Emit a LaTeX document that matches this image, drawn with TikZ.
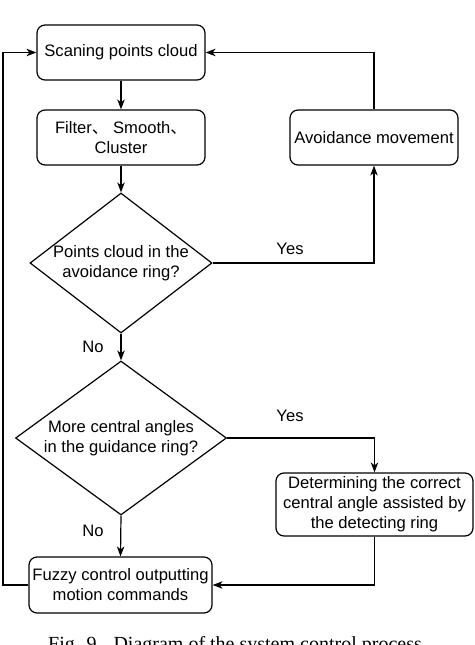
\documentclass[tikz,border=0pt]{standalone}
\usepackage{fontspec}
\setmainfont{Liberation Sans}
\newfontfamily\capfont{Liberation Serif}
\newfontfamily\cjk{Noto Sans CJK SC}
\usetikzlibrary{shapes.geometric,arrows.meta}
\begin{document}
\begin{tikzpicture}[x=1pt,y=-1pt,
  txt/.style={font=\fontsize{16.6}{20}\selectfont, align=center, inner sep=0pt},
  box/.style={txt, draw, line width=1.2pt, rounded corners=8pt},
  dia/.style={draw, diamond, line width=1.2pt, inner sep=0pt},
  arr/.style={line width=1.2pt, -{Stealth[length=10pt,width=7.5pt,inset=3pt]}},
  lab/.style={txt}]
\useasboundingbox (0,0) rectangle (474,645);
\node[box, minimum width=168pt, minimum height=55pt] (b1) at (121,52.5) {Scaning points cloud};
\node[box, minimum width=168pt, minimum height=55pt] (b2) at (121,137.5) {Filter{\cjk 、} Smooth{\cjk 、}\\Cluster};
\node[box, minimum width=168pt, minimum height=55pt] (av) at (374,137.5) {Avoidance movement};
\node[dia, minimum width=182pt, minimum height=140pt] (d1) at (121,263) {};
\node[txt] (d1t) at (d1.center) {Points cloud in the\\avoidance ring?};
\node[dia, minimum width=211pt, minimum height=154pt] (d2) at (121,438) {};
\node[txt] (d2t) at (d2.center) {More central angles\\in the guidance ring?};
\node[box, minimum width=197pt, minimum height=63pt] (det) at (374.5,504.5) {Determining the correct\\central angle assisted by\\the detecting ring};
\node[box, minimum width=183pt, minimum height=56pt] (fz) at (120.5,585) {Fuzzy control outputting\\motion commands};
\coordinate (lp) at (3,585);
\node[lab] (y1) at (290,249) {Yes};
\node[lab] (n1) at (93,347) {No};
\node[lab] (y2) at (290,416) {Yes};
\node[lab] (n2) at (93,531) {No};
\draw[arr] (b1.south) -- (b2.north);
\draw[arr] (b2.south) -- (d1.north);
\draw[arr] (d1.east) -| (av.south);
\draw[arr] (av.north) |- (b1.east);
\draw[arr] (d1.south) -- (d2.north);
\draw[arr] (d2.east) -| (det.north);
\draw[arr] (det.south) |- (fz.east);
\draw[arr] (d2.south) -- (fz.north);
\draw[arr] (fz.west) -- (lp) |- (b1.west);
\node[font=\capfont\fontsize{20}{22}\selectfont, anchor=base west, inner sep=0pt] (cap) at (48,650) {Fig. 9\hspace{17pt}Diagram of the system control process};
\end{tikzpicture}
\end{document}
